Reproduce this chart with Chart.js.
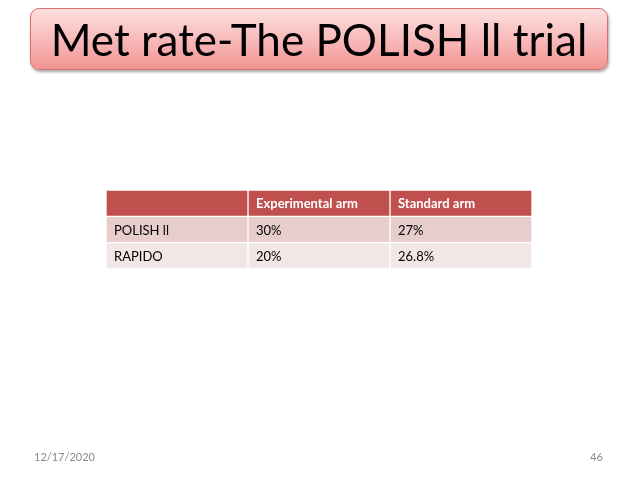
<!DOCTYPE html>
<html>
<head>
<meta charset="utf-8">
<script src="https://cdn.jsdelivr.net/npm/chart.js@4"></script>
<style>
  body { margin:0; background:#fff; font-family: Lato, "Open Sans", sans-serif; }
  #wrap { position:relative; width:638px; height:478px; }
  #title { position:absolute; left:30px; top:8px; width:576px; height:60px; border-radius:9px;
    background:linear-gradient(#fde0e0,#f7b3b3 60%,#f29393); border:1px solid #d97070;
    box-shadow:1px 2px 3px rgba(0,0,0,0.35); text-align:center; font-size:44px; line-height:60px; color:#000; }
  .foot { position:absolute; top:450px; font-size:11px; color:#8a8a8a; }
</style>
</head>
<body>
<div id="wrap">
  <canvas id="c" width="638" height="478"></canvas>
  <div id="title">Met rate-The POLISH ll trial</div>
  <div class="foot" style="left:34px">12/17/2020</div>
  <div class="foot" style="left:590px">46</div>
</div>
<script>
// table content
var columns = ['', 'Experimental arm', 'Standard arm'];
var rows = ['POLISH ll', 'RAPIDO'];
var experimental = ['30%', '20%'];
var standard = ['27%', '26.8%'];

var rowLabels = ['header'].concat(rows);
var rowColors = ['#c0504d', '#e8cdcd', '#f3e6e6'];
var cellText = [columns, [rows[0], experimental[0], standard[0]], [rows[1], experimental[1], standard[1]]];

var datasets = columns.map(function(col, ci) {
  return {
    label: 'col' + ci,
    data: rowLabels.map(function() { return [ci, ci + 1]; }),
    backgroundColor: rowColors,
    borderColor: '#ffffff',
    borderWidth: 1,
    borderSkipped: false,
    barPercentage: 1,
    categoryPercentage: 1,
    grouped: false
  };
});

var textPlugin = {
  id: 'cellText',
  afterDatasetsDraw: function(chart) {
    var ctx = chart.ctx, xs = chart.scales.x, ys = chart.scales.y;
    ctx.save();
    ctx.textBaseline = 'middle';
    for (var r = 0; r < cellText.length; r++) {
      for (var c = 0; c < cellText[r].length; c++) {
        ctx.fillStyle = r === 0 ? '#ffffff' : '#000000';
        ctx.font = (r === 0 ? 'bold ' : '') + '13px Lato, "Open Sans", sans-serif';
        ctx.fillText(cellText[r][c], xs.getPixelForValue(c) + 8, ys.getPixelForValue(r) + 1);
      }
    }
    ctx.restore();
  }
};

new Chart(document.getElementById('c'), {
  type: 'bar',
  data: { labels: rowLabels, datasets: datasets },
  plugins: [textPlugin],
  options: {
    indexAxis: 'y',
    responsive: false,
    animation: false,
    layout: { padding: { left: 106, right: 106, top: 190, bottom: 209 } },
    plugins: { legend: { display: false }, tooltip: { enabled: false } },
    scales: {
      x: { type: 'linear', min: 0, max: 3, display: false },
      y: { display: false }
    }
  }
});
</script>
</body>
</html>
